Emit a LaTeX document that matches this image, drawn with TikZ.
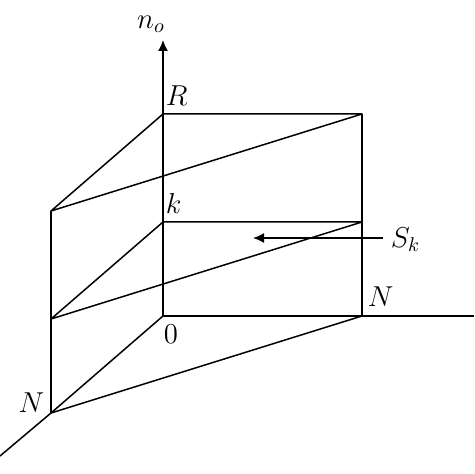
\documentclass[tikz,border=0pt]{standalone}
\usepackage{amsmath}
\usepackage{tikz}
\usetikzlibrary{calc,arrows.meta}
\def\drawSlab#1{
\coordinate (F#1) at ($(O)+(0,-#1)$);
\coordinate (B#1) at ($(L)+(0,-#1)$);
\coordinate (E#1) at ($(X)+(0,-#1)$);
\draw (F#1) -- (B#1) -- (E#1) -- (F#1);
}

\begin{document}
\begin{tikzpicture}[x=0.5pt, y=-0.5pt, line width=0.75pt, line join=round, every node/.style={inner sep=1pt, font=\Large}]
	\useasboundingbox (0,0) rectangle (474,474);
	\coordinate (O) at (163,316);
	\coordinate (X) at (362,316);
	\coordinate (L) at (51,413);
	\coordinate (Top) at (163,40);
	\coordinate (Xend) at (474,316);
	\coordinate (Yend) at (0,456);
	% axes
	\draw[-{Latex[length=5.5pt,width=5pt]}] (O) -- (Top);
	\draw (O) -- (Xend);
	\draw (O) -- (L) -- (Yend);
	\draw (L) -- (X);
	% the two levels
	\drawSlab{202}
	\drawSlab{94}
	\draw (L) -- (B202);
	\draw (X) -- (E202);
	% labels
	\node (no) at (151,24) {$n_o$};
	\node[anchor=south west] (lR) at (163,108) {$R$};
	\node[anchor=south west] (lk) at (163,216) {$k$};
	\node[anchor=south west] (lN1) at (365,309) {$N$};
	\node[anchor=south east] (lN2) at (47,415) {$N$};
	\node[anchor=north west] (l0) at (161,322) {$0$};
	\node[anchor=west] (Sk) at (388,240) {$S_k$};
	\coordinate (skstart) at (383,238);
	\draw[-{Latex[length=5.5pt,width=5pt]}] (skstart) -- (253,238);
\end{tikzpicture}
\end{document}
